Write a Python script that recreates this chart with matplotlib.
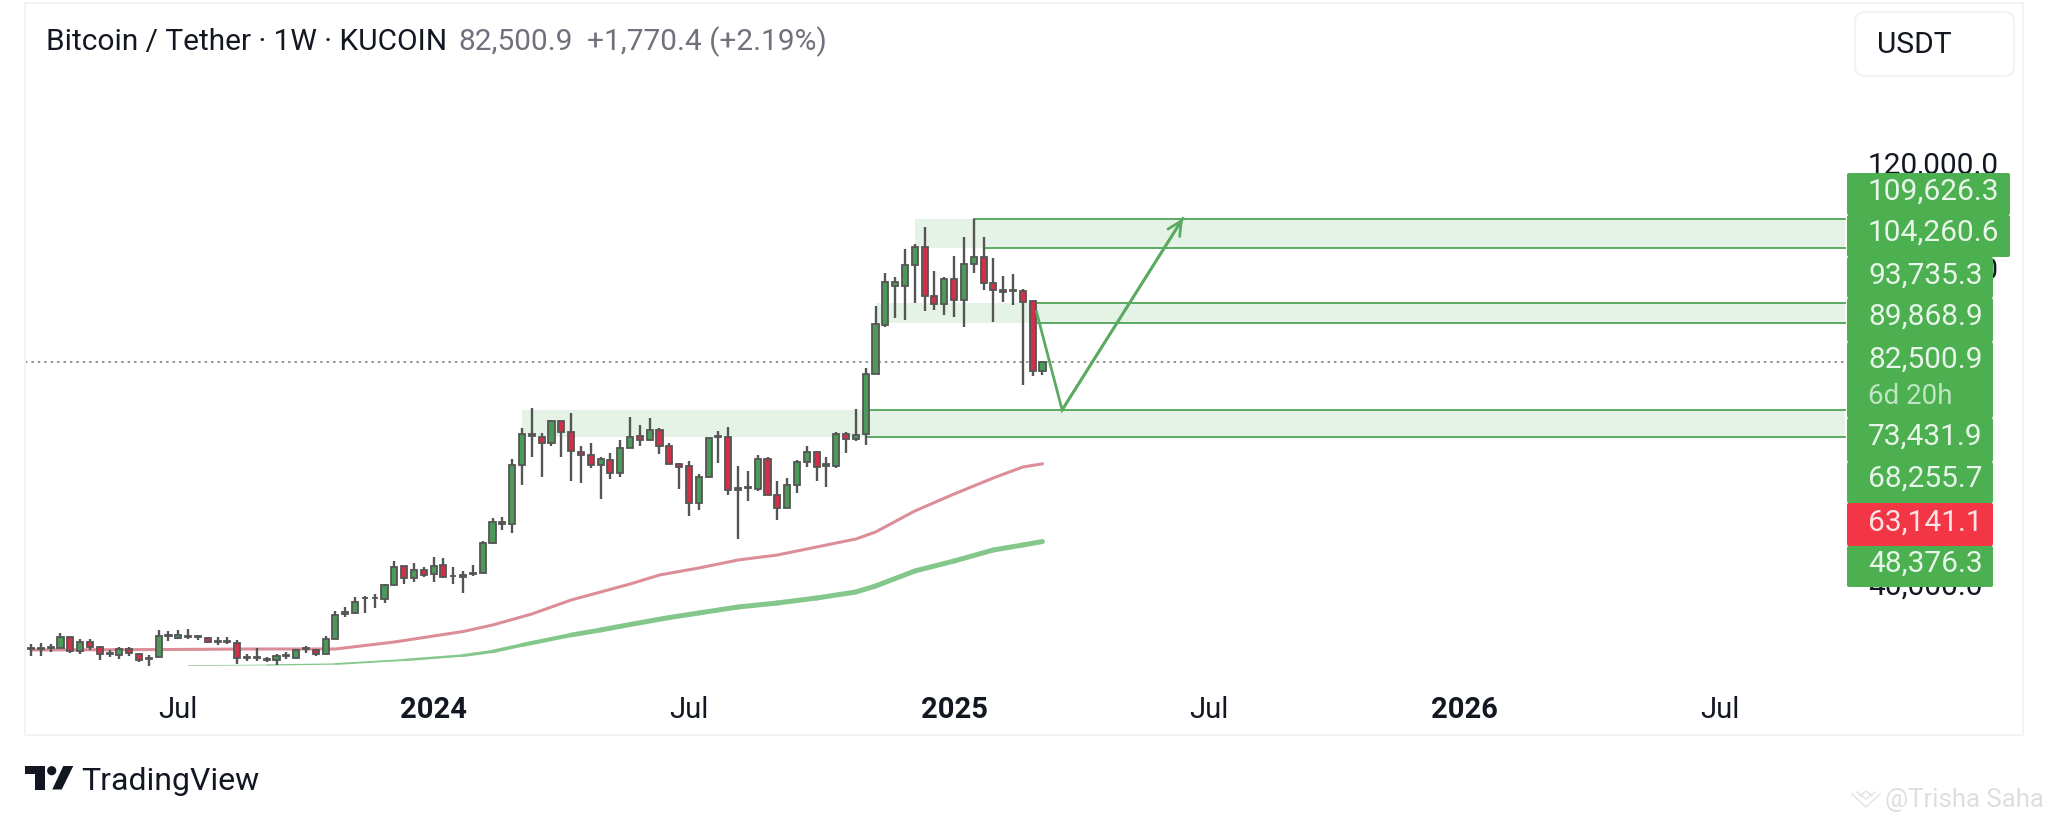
import numpy as np
import matplotlib
matplotlib.use("Agg")
import matplotlib.pyplot as plt
from matplotlib.patches import FancyBboxPatch, Polygon, Circle
from matplotlib.collections import LineCollection

plt.rcParams["font.family"] = ["Roboto", "DejaVu Sans"]

# weekly candles (first week 2023-03-20)
opens = [27941, 28005, 28195, 28195, 30159, 27624, 29272, 28321, 26927, 26737, 28005, 27054, 26230, 26420,
         30413, 30032, 30222, 30413, 30032, 29335, 29335, 29145, 26230, 26357, 25913, 25787, 26611, 26230,
         27941, 27814, 27054, 29842, 34595, 34848, 37573, 37700, 37447, 40045, 43657, 41376, 42960, 42199,
         43847, 41883, 41692, 42136, 42451, 48154, 52020, 51703, 62983, 68370, 68306, 67166, 71221, 69130,
         65455, 64758, 62983, 63934, 61462, 66152, 68370, 67673, 69510, 66469, 63110, 62666, 55759, 60575,
         68179, 68179, 58104, 58610, 58294, 64124, 57217, 54745, 59118, 63427, 65455, 62793, 62793, 68813,
         67799, 68747, 80218, 89533, 97011, 97011, 100876, 104298, 94983, 93526, 98215, 94349, 101067,
         102397, 97581, 96187, 95997, 96060, 94032, 80730]
highs = [28828, 29018, 28828, 30920, 30413, 29906, 29779, 28511, 27751, 28385, 28385, 27244, 26864, 31553,
         31363, 31490, 31743, 30603, 30159, 30159, 30159, 29652, 26927, 28068, 26483, 26927, 27434, 28005,
         28575, 28005, 30413, 35229, 35989, 37890, 38017, 38334, 40235, 44671, 43720, 44354, 43467, 45495,
         45178, 43594, 42770, 43910, 48535, 52781, 52971, 63997, 69890, 73693, 68940, 71475, 71348, 72742,
         66532, 67166, 64504, 65265, 67673, 71982, 70524, 71918, 70017, 67166, 63364, 63744, 61209, 68116,
         69384, 70081, 62730, 61843, 64821, 64377, 59878, 60449, 63870, 66532, 65645, 64377, 69193, 69257,
         73566, 81295, 93145, 99482, 98722, 103918, 104932, 108101, 99736, 98722, 102651, 106326, 109626,
         106326, 102334, 98849, 99229, 96314, 94159, 82690]
lows = [26674, 26674, 27308, 28195, 27244, 26991, 27751, 25850, 26357, 25977, 26674, 25533, 24773, 26357,
        29462, 29842, 29842, 29652, 29018, 28638, 28828, 25090, 25597, 25597, 25533, 24963, 25977, 26167,
        27244, 26674, 26991, 29779, 34088, 34532, 34848, 35799, 36750, 40045, 40298, 40615, 41566, 40615,
        41376, 40235, 38651, 41883, 42325, 47838, 50563, 50006, 59054, 64504, 60702, 66532, 64377, 59878,
        59561, 62349, 56519, 60195, 60702, 66152, 66595, 67673, 65011, 63174, 58420, 53287, 54365, 60575,
        63364, 57217, 48788, 56139, 57913, 57217, 52464, 54745, 57533, 62603, 59878, 58801, 62349, 65265,
        67546, 66720, 80218, 89216, 90800, 90484, 93779, 92258, 92385, 91371, 91118, 89089, 99482,
        96187, 90040, 93969, 93272, 78127, 79901, 80028]
closes = [28068, 28131, 28321, 30159, 27624, 29208, 28385, 26927, 27117, 28005, 27117, 25850, 26103, 30349,
          30540, 30540, 30349, 30286, 29272, 29462, 29462, 26293, 26357, 26230, 26040, 26611, 26737, 27814,
          28068, 27054, 29842, 34405, 35039, 36940, 37700, 37573, 40045, 43594, 41376, 42960, 42073, 43784,
          41692, 41756, 42009, 42453, 48154, 52020, 51640, 62983, 68877, 68813, 67166, 71221, 69193, 65518,
          64821, 62983, 63997, 61462, 66152, 68306, 67673, 69510, 66532, 63174, 62603, 55759, 60638, 67989,
          68496, 58104, 58610, 58801, 64124, 57217, 54745, 59054, 63490, 65455, 62603, 63047, 68813, 67799,
          68687, 80218, 89660, 97708, 97708, 100876, 104298, 94983, 93526, 98215, 94349, 101067, 102397,
          97581, 96124, 95870, 96250, 93969, 80730, 82500.9]

# moving averages, read at selected weeks
red_ma_weeks = [0, 14, 22, 31, 37, 44, 47, 51, 55, 58, 61, 64, 68, 72, 76, 80, 84, 86, 90, 94, 98, 101, 103]
red_ma = [27752, 27847, 27942, 27942, 29273, 31268, 32504, 34595, 37257, 38777, 40298, 42010, 43340, 44861,
          45811, 47332, 48853, 50183, 54176, 57408, 60459, 62540, 63141.1]
green_ma_weeks = [16, 24, 31, 38, 44, 47, 50, 55, 58, 61, 65, 68, 72, 76, 80, 84, 86, 90, 94, 98, 101, 103]
green_ma = [24806, 24900, 25091, 25851, 26705, 27468, 28703, 30605, 31554, 32600, 33931, 34786, 35926, 36686,
            37637, 38778, 39918, 42770, 44671, 46762, 47712, 48376.3]

# zones: low, high, week the shading starts, week the top/bottom lines start
zone_low = [104260.6, 89868.9, 68255.7]
zone_high = [109626.3, 93735.3, 73431.9]
zone_start = [90, 86, 50]
zone_line_top = [96, 102.5, 85]
zone_line_bottom = [97, 102.5, 85]

path_weeks = [102.4, 105, 117.3]
path_prices = [92000, 73380, 109800]

tick_weeks = [15, 41, 67, 94, 120, 146, 172]
tick_labels = ["Jul", "2024", "Jul", "2025", "Jul", "2026", "Jul"]
tick_bold = [False, True, False, True, False, True, False]

last_price = 82500.9
axis_prices = [120000, 100000, 40000]
tag_labels = ["109,626.3", "104,260.6", "93,735.3", "89,868.9", "82,500.9", "73,431.9", "68,255.7", "63,141.1", "48,376.3"]

W, H = 2048, 822
GREEN = "#4CAF50"
RED = "#F23645"
LINE = "#5BAA62"
ZONE = "#E5F2E6"
DARK = "#131722"
WICK = "#555555"

fig = plt.figure(figsize=(W / 100, H / 100), dpi=100, facecolor="white")

# chart pane: 9.82 px per week, 0.00526 px per dollar
ax = fig.add_axes([25 / W, 1 - 735 / H, (2023 - 25) / W, (735 - 3) / H])
ax.set_xlim(-0.611, 202.85)
ax.set_ylim(11594, 150747)
for s in ax.spines.values():
    s.set_color("#F2F3F5")
    s.set_linewidth(1.5)
ax.tick_params(length=0)
ax.set_yticks([])
ax.set_xticks(tick_weeks)
ax.set_xticklabels(tick_labels, fontsize=21, color=DARK)
ax.tick_params(axis="x", pad=-28)
for lab, b in zip(ax.get_xticklabels(), tick_bold):
    if b:
        lab.set_fontweight("bold")

zone_end = 184.7

ax.axhline(last_price, xmax=(zone_end + 0.611) / 203.461, color="#777777", lw=1.1, ls=(0, (1.6, 2.6)), zorder=1)

for lo, hi, st, lt, lb in zip(zone_low, zone_high, zone_start, zone_line_top, zone_line_bottom):
    ax.fill_between([st, zone_end], lo, hi, color=ZONE, lw=0, zorder=0)
    ax.plot([lt, zone_end], [hi, hi], color=LINE, lw=1.4, zorder=2)
    ax.plot([lb, zone_end], [lo, lo], color=LINE, lw=1.4, zorder=2)

# moving averages
ax.plot(red_ma_weeks, red_ma, color="#DB8E98", lw=2.2, zorder=2, solid_capstyle="round", solid_joinstyle="round")
pts = np.column_stack([green_ma_weeks, green_ma])
segs = np.stack([pts[:-1], pts[1:]], axis=1)
widths = [min(3.6, 0.5 + 0.42 * k) for k in range(len(segs))]
ax.add_collection(LineCollection(segs, colors="#84C78A", linewidths=widths, capstyle="round", zorder=2))

# candles
weeks = np.arange(len(opens))
o = np.array(opens)
c = np.array(closes)
colors = np.where(c >= o, "#4C9A5A", "#D22F49")
ax.vlines(weeks, lows, highs, color=WICK, lw=1.7, zorder=3)
ax.bar(weeks, np.abs(c - o), bottom=np.minimum(o, c), width=0.62, color=colors, edgecolor=WICK, linewidth=1.3, zorder=4)

# drawn path with arrow head
ax.plot(path_weeks, path_prices, color=LINE, lw=2, zorder=5, solid_joinstyle="miter")
ax.annotate("", xy=(path_weeks[2], path_prices[2]), xytext=(path_weeks[1], path_prices[1]),
            arrowprops=dict(arrowstyle="->,head_length=1.0,head_width=0.5", color=LINE, lw=2, shrinkA=0, shrinkB=0), zorder=5)

# everything else is placed in image pixels
ov = fig.add_axes([0, 0, 1, 1], facecolor="none")
ov.set_xlim(0, W)
ov.set_ylim(H, 0)
ov.axis("off")

def price_y(p):
    return 362 - (p - last_price) * 0.00526

for p in axis_prices:
    ov.text(1868, price_y(p) + 1, f"{p:,.1f}", fontsize=21.5, color=DARK, va="center", ha="left", zorder=1)

tag_boxes = [(173, 215), (215, 257), (257, 298), (298, 342), (342, 418), (418, 462), (462, 503), (503, 546), (546, 587)]
tag_text_y = [192, 233, 276, 317, 360, 437, 479, 523, 564]
for k, (lab, (y0, y1), ty) in enumerate(zip(tag_labels, tag_boxes, tag_text_y)):
    right = 2010 if k < 2 else 1993
    col = RED if lab == "63,141.1" else GREEN
    ov.add_patch(FancyBboxPatch((1849, y0 + 2), right - 1851, y1 - y0 - 4, boxstyle="round,pad=2,rounding_size=2", fc=col, ec="none", zorder=2))
    ov.text(1868, ty, lab, fontsize=21.5, color="#E8F6E9" if col == GREEN else "#FBE3E6", va="center", ha="left", zorder=3)
ov.text(1868, 396, "6d 20h", fontsize=20, color="#BFE5C1", va="center", ha="left", zorder=3)

# header
ov.text(46, 42, "Bitcoin / Tether · 1W · KUCOIN", fontsize=21.5, color=DARK, va="center")
ov.text(458, 42, "82,500.9", fontsize=21.5, color="#6F727C", va="center")
ov.text(587, 42, "+1,770.4 (+2.19%)", fontsize=21.5, color="#6F727C", va="center")

ov.add_patch(FancyBboxPatch((1865, 22), 139, 44, boxstyle="round,pad=10,rounding_size=10", fc="white", ec="#F2F3F5", lw=1.5))
ov.text(1877, 45, "USDT", fontsize=21.5, color=DARK, va="center")

# TradingView logo
ov.add_patch(Polygon([(25, 766), (44.5, 766), (44.5, 789.5), (35, 789.5), (35, 774), (25, 774)], fc=DARK, ec="none"))
ov.add_patch(Circle((51.7, 770.7), 4.6, fc=DARK, ec="none"))
ov.add_patch(Polygon([(63.3, 766), (73.3, 766), (61.7, 789.5), (52.3, 789.5)], fc=DARK, ec="none"))
ov.text(81, 781, "TradingView", fontsize=23, color=DARK, va="center")

# watermark
ov.plot([1852, 1866, 1880], [794, 807, 794], color="#E2E2E2", lw=1)
ov.plot([1857, 1866, 1875], [792, 799, 792], color="#E2E2E2", lw=1)
ov.plot([1860, 1866, 1872], [796, 791, 796], color="#E2E2E2", lw=1)
ov.text(1885, 800, "@Trisha Saha", fontsize=18.5, color="#DEDEDE", va="center")

fig.savefig("out.png", dpi=100)
